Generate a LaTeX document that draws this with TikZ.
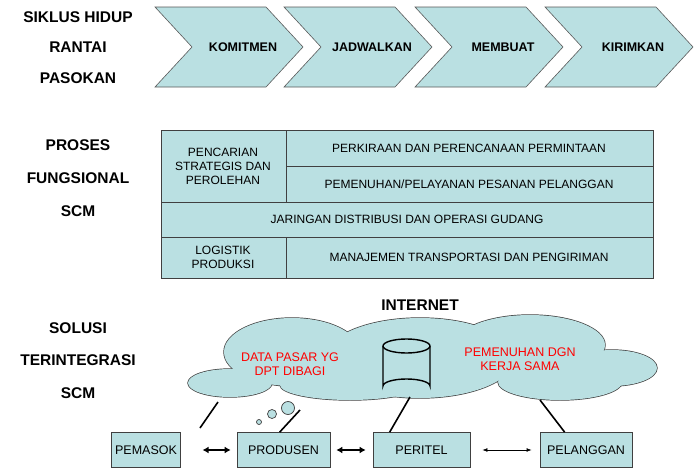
\documentclass[tikz,border=0pt]{standalone}
\usepackage{fontspec}
\setmainfont{Liberation Sans}
\usetikzlibrary{arrows.meta}
\definecolor{tl}{HTML}{BAE0E2}
\begin{document}
\begin{tikzpicture}[x=1pt,y=-1pt,
  lab/.style={font=\bfseries\fontsize{15.5}{17}\selectfont},
  cell/.style={font=\fontsize{12}{14}\selectfont,align=center},
  chev/.style={fill=tl,draw=gray!70!black,line width=0.6pt},
  bx/.style={draw=gray!50!black,fill=tl,line width=0.7pt,minimum height=35pt,font=\fontsize{12.5}{14}\selectfont},
  lnk/.style={line width=1.6pt}]
\useasboundingbox (0,0) rectangle (697,474);
% left labels
\node[lab] (l1) at (78,17) {SIKLUS HIDUP};
\node[lab] (l2) at (78,47) {RANTAI};
\node[lab] (l3) at (78,78) {PASOKAN};
\node[lab] (l4) at (78,145) {PROSES};
\node[lab] (l5) at (78,178) {FUNGSIONAL};
\node[lab] (l6) at (78,211) {SCM};
\node[lab] (l7) at (78,328) {SOLUSI};
\node[lab] (l8) at (78,360) {TERINTEGRASI};
\node[lab] (l9) at (78,393) {SCM};
% chevrons
\foreach \x/\t [count=\i] in {155/KOMITMEN,284/JADWALKAN,415/MEMBUAT,545/KIRIMKAN}{
  \draw[chev] (\x,7) -- (\x+111,7) -- (\x+148,47) -- (\x+111,87) -- (\x,87) -- (\x+37,47) -- cycle;
  \node[font=\bfseries\fontsize{12.5}{14}\selectfont] (c\i) at (\x+88,47) {\t};
}
% table
\begin{scope}[draw=gray!50!black,line width=0.7pt]
\fill[tl] (161,130) rectangle (653,278);
\draw (161,130) rectangle (653,278);
\draw (286,166) -- (653,166);
\draw (161,202) -- (653,202);
\draw (161,237) -- (653,237);
\draw (286,130) -- (286,202);
\draw (286,237) -- (286,278);
\end{scope}
\node[cell] (t1) at (223,166) {PENCARIAN\\STRATEGIS DAN\\PEROLEHAN};
\node[cell] (t2) at (469,148) {PERKIRAAN DAN PERENCANAAN PERMINTAAN};
\node[cell] (t3) at (469,184) {PEMENUHAN/PELAYANAN PESANAN PELANGGAN};
\node[cell] (t4) at (407,219) {JARINGAN DISTRIBUSI DAN OPERASI GUDANG};
\node[cell] (t5) at (223,257) {LOGISTIK\\PRODUKSI};
\node[cell] (t6) at (469,257) {MANAJEMEN TRANSPORTASI DAN PENGIRIMAN};
% internet
\node[lab] (inet) at (420,305) {INTERNET};
% cloud
\def\cloud{
  \path (230,383) ellipse (42 and 14);
  \path (292,352) ellipse (68 and 34);
  \path (420,358) ellipse (95 and 40);
  \path (530,345) ellipse (75 and 30);
  \path (612,368) ellipse (45 and 18);
  \path (560,382) ellipse (62 and 18);
  \path (350,385) ellipse (70 and 15);
}
\begin{scope}[every path/.style={draw=gray!50!black,line width=1.4pt}]\cloud\end{scope}
\begin{scope}[every path/.style={fill=tl}]\cloud\end{scope}
% cylinder
\draw[line width=1.4pt,fill=tl] (383,346) -- (383,386) arc (180:360:23.5 and 7) -- (430,346);
\draw[line width=1.4pt,fill=tl] (406.5,346) ellipse (23.5 and 7);
\node[text=red,align=center,font=\fontsize{12.5}{14.5}\selectfont] (d1) at (290,364) {DATA PASAR YG\\DPT DIBAGI};
\node[text=red,align=center,font=\fontsize{12.5}{14.5}\selectfont] (d2) at (520,359) {PEMENUHAN DGN\\KERJA SAMA};
% bubbles
\foreach \p/\r in {{(259,422)}/2.5,{(272,414)}/4.5,{(288,408)}/6.5}
  \draw[gray!50!black,line width=0.7pt,fill=tl] \p circle (\r);
% boxes
\node[bx,minimum width=68pt] (pem) at (146,450) {PEMASOK};
\node[bx,minimum width=93pt] (pro) at (283.5,450) {PRODUSEN};
\node[bx,minimum width=97pt] (per) at (421.5,450) {PERITEL};
\node[bx,minimum width=92pt] (pel) at (586,450) {PELANGGAN};
\coordinate (k1) at (218,402);
\coordinate (k2) at (300,410);
\coordinate (k3) at (410,397);
\coordinate (k4) at (540,400);
\coordinate (e1) at (200,428);
\draw[lnk] (k1) -- (e1);
\draw[lnk] (k2) -- ([xshift=43pt]pro.north west);
\draw[lnk] (k3) -- ([xshift=17pt]per.north west);
\draw[lnk] (k4) -- ([xshift=25pt]pel.north west);
\draw[line width=2pt,{Latex[length=6pt,width=7pt]}-{Latex[length=6pt,width=7pt]}] ([xshift=22pt]pem.east) -- ([xshift=-6pt]pro.west);
\draw[line width=2pt,{Latex[length=6pt,width=7pt]}-{Latex[length=6pt,width=7pt]}] ([xshift=6pt]pro.east) -- ([xshift=-7pt]per.west);
\draw[line width=0.7pt,{Latex[length=5pt]}-{Latex[length=5pt]}] ([xshift=12pt]per.east) -- ([xshift=-8pt]pel.west);
\end{tikzpicture}
\end{document}
